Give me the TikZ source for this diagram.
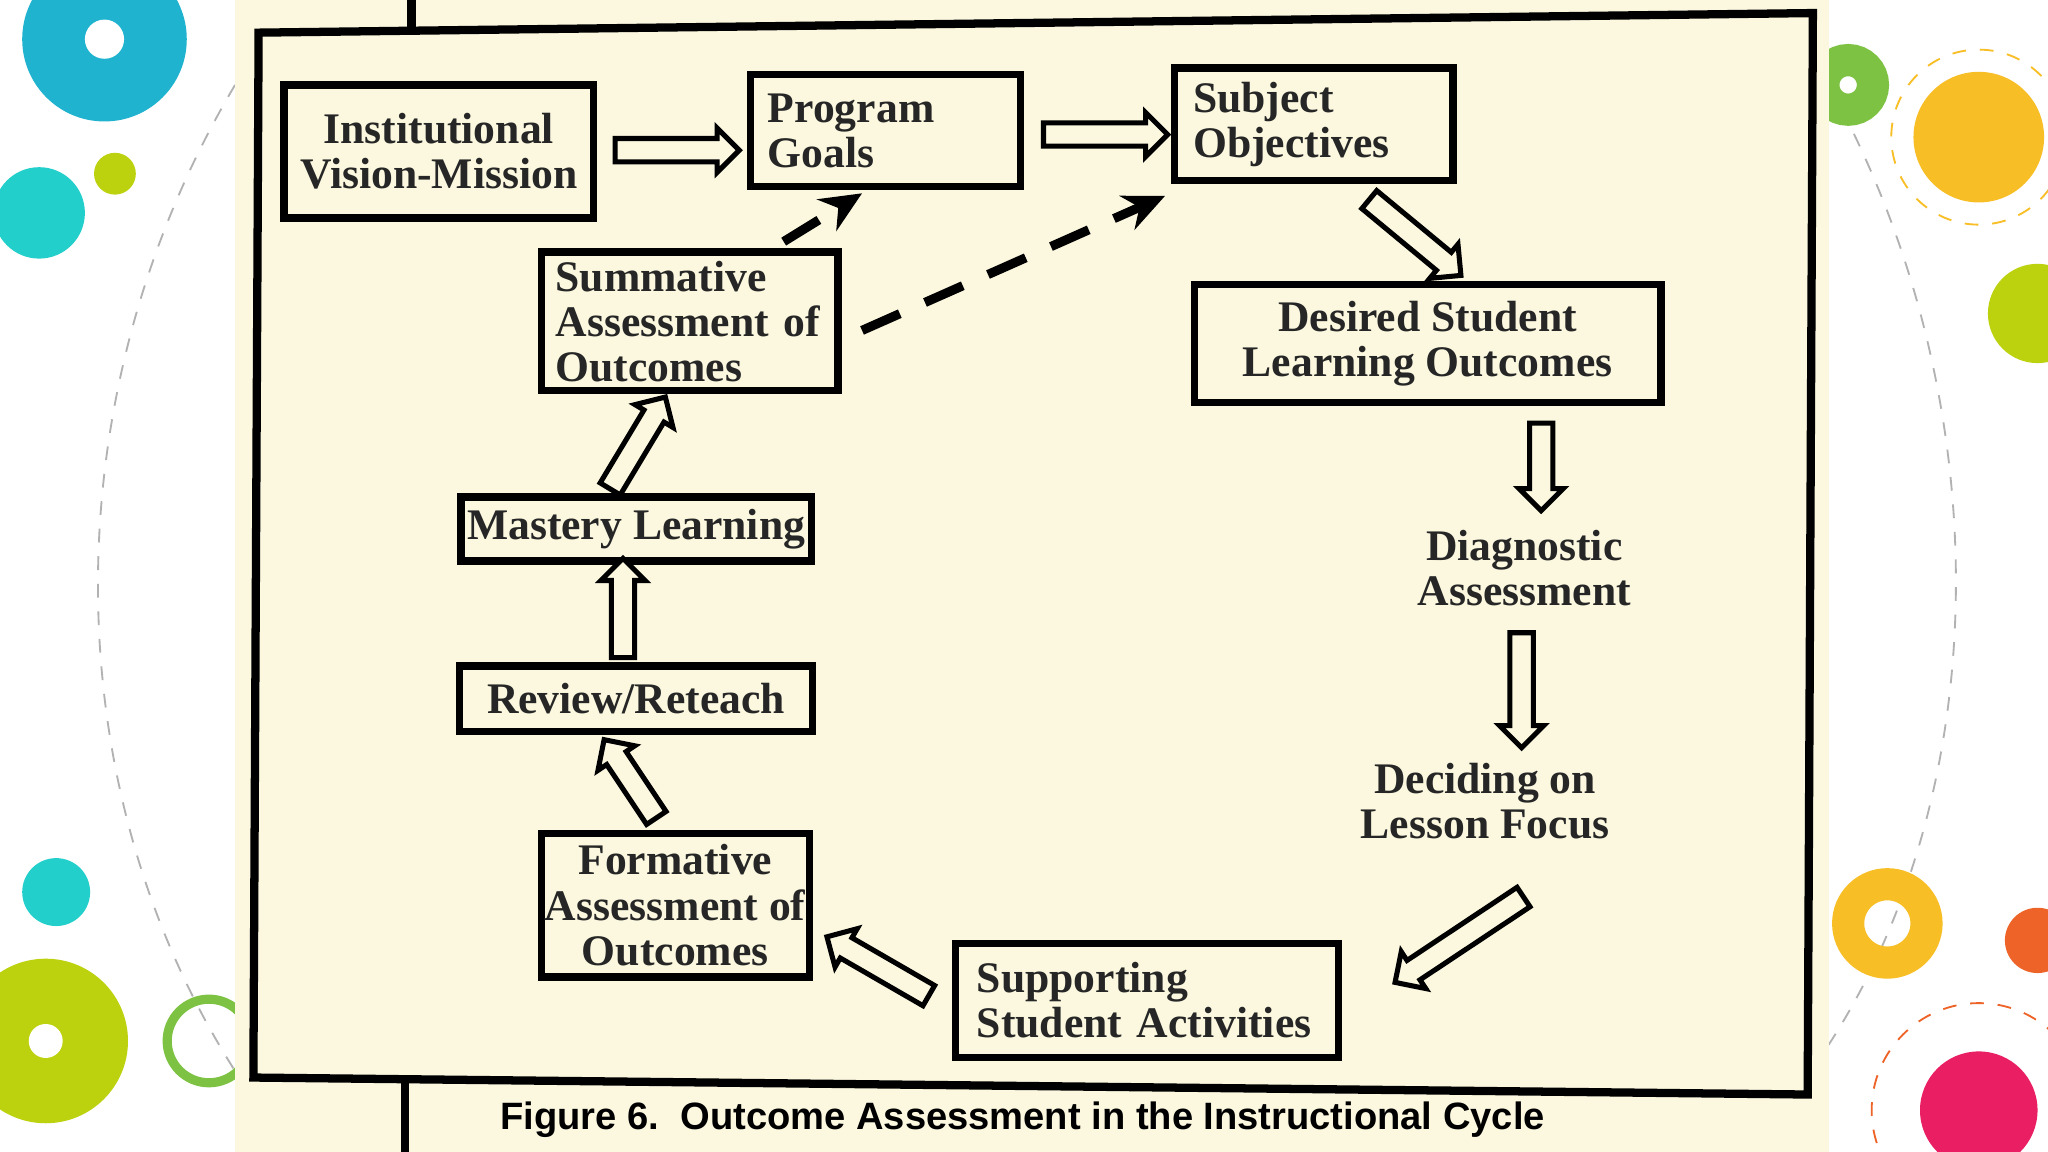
\documentclass[tikz,border=0pt]{standalone}
\usepackage{fontspec}
\setmainfont{Liberation Serif}
\newfontfamily\capfont{Liberation Sans}
\usetikzlibrary{shapes.arrows,arrows.meta}
\definecolor{paper}{HTML}{FBF8DF}
\definecolor{teal1}{HTML}{1FB3CF}
\definecolor{cyan1}{HTML}{22CFCB}
\definecolor{lime1}{HTML}{BDD20E}
\definecolor{green1}{HTML}{7DC242}
\definecolor{yel1}{HTML}{F7BE26}
\definecolor{org1}{HTML}{EE6428}
\definecolor{pink1}{HTML}{E91E63}
\tikzset{
 bx/.style={draw,line width=1.6pt,minimum width=#1 cm,inner sep=0pt},
 txt/.style={font=\fontsize{9.5}{9.8}\selectfont\bfseries,align=center,text=black!85},
 barr/.style={draw,line width=1.1pt,single arrow,minimum width=0pt,single arrow head extend=0.08cm,inner sep=0.07cm,fill=paper,single arrow head indent=0pt},
}
\begin{document}
\begin{tikzpicture}[x=0.01cm,y=-0.01cm]
\useasboundingbox (0,0) rectangle (1568,882);
\fill[white] (0,0) rectangle (1568,882);
% deco arcs
\draw[gray!60,dashed,thin] (180,65) .. controls (40,300) and (40,600) .. (180,820);
\draw[gray!60,dashed,thin] (1400,65) .. controls (1530,300) and (1530,600) .. (1400,800);
% circles left
\fill[teal1] (80,30) circle (63); \fill[white] (80,30) circle (15);
\fill[cyan1] (30,163) circle (35);
\fill[lime1] (88,133) circle (16);
\fill[cyan1] (43,683) circle (26);
\fill[lime1] (35,797) circle (63); \fill[white] (35,797) circle (13);
\draw[green1,line width=2pt] (160,797) circle (32);
% circles right
\draw[green1,line width=7pt] (1415,65) circle (19);
\fill[yel1] (1515,105) circle (50); \draw[yel1,dashed] (1515,105) circle (67);
\fill[lime1] (1560,240) circle (38);
\draw[yel1,line width=7pt] (1445,707) circle (30);
\fill[org1] (1560,720) circle (25);
\draw[org1,dashed] (1515,850) circle (82); \fill[pink1] (1515,850) circle (45);
% paper
\fill[paper] (180,0) rectangle (1400,882);
\draw[line width=1.8pt] (198,25) -- (1388,10) -- (1384,838) -- (194,825) -- cycle;
\draw[line width=1.8pt] (315,0) -- (315,22);
\draw[line width=1.8pt] (310,828) -- (310,882);
\node (cap) at (783,857) {\capfont\bfseries\fontsize{8.3}{10}\selectfont Figure 6.\ \ Outcome Assessment in the Instructional Cycle};
% boxes
\node[bx=2.37,minimum height=1.02cm,txt] (ivm) at (336,116) {Institutional\\Vision-Mission};
\node[bx=2.07,minimum height=0.86cm,txt,align=left,text width=1.8cm] (pg) at (678,100) {Program\\Goals};
\node[bx=2.13,minimum height=0.86cm,txt,align=left,text width=1.85cm] (so) at (1006,95) {Subject\\Objectives};
\node[bx=3.57,minimum height=0.90cm,txt] (dslo) at (1093,263) {Desired Student\\Learning Outcomes};
\node[txt] (da) at (1167,435) {Diagnostic\\Assessment};
\node[txt] (dlf) at (1137,613) {Deciding on\\Lesson Focus};
\node[bx=2.93,minimum height=0.87cm,txt,align=left,text width=2.6cm] (ssa) at (878,766) {Supporting\\Student Activities};
\node[bx=2.05,minimum height=1.10cm,txt] (fao) at (517,693) {Formative\\Assessment of\\Outcomes};
\node[bx=2.70,minimum height=0.50cm,txt] (rr) at (487,535) {Review/Reteach};
\node[bx=2.68,minimum height=0.49cm,txt] (ml) at (487,405) {Mastery Learning};
\node[bx=2.27,minimum height=1.06cm,txt,align=left,text width=2.05cm] (sao) at (528,246) {Summative\\Assessment of\\Outcomes};
% block arrows
\node[barr,minimum height=0.95cm,rotate=0] (a1) at (514,115) {};
\node[barr,minimum height=0.95cm,rotate=0] (a2) at (842,103) {};
\node[barr,minimum height=0.91cm,rotate=-39.6] (a3) at (1080,179) {};
\node[barr,minimum height=0.67cm,rotate=-90] (a4) at (1180,353) {};
\node[barr,minimum height=0.88cm,rotate=-90] (a5) at (1165,524) {};
\node[barr,minimum height=1.18cm,rotate=-146.4] (a6) at (1121,717) {};
\node[barr,minimum height=0.90cm,rotate=150] (a7) at (676,742) {};
\node[barr,minimum height=0.72cm,rotate=123.7] (a8) at (485,600) {};
\node[barr,minimum height=0.76cm,rotate=90] (a9) at (477,470) {};
\node[barr,minimum height=0.82cm,rotate=59] (a10) at (486,343) {};
% dashed arrows
\coordinate (d1s) at (600,185); \coordinate (d1e) at (660,148);
\coordinate (d2s) at (660,253); \coordinate (d2e) at (892,150);
\draw[line width=2pt,dash pattern=on 9pt off 6pt,-{Stealth[length=9pt,width=8pt]}] (d1s) -- (d1e);
\draw[line width=2pt,dash pattern=on 9pt off 6pt,-{Stealth[length=9pt,width=8pt]}] (d2s) -- (d2e);
\end{tikzpicture}
\end{document}
